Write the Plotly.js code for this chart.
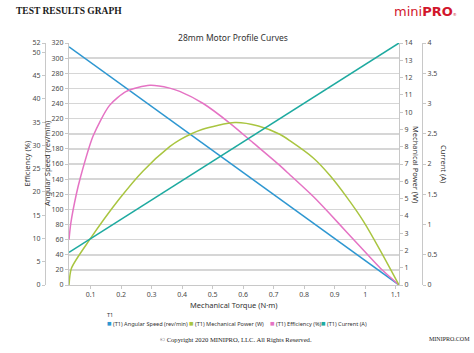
<!DOCTYPE html>
<html>
<head>
<meta charset="utf-8">
<script src="https://cdn.plot.ly/plotly-3.0.1.min.js"></script>
<style>html,body{margin:0;padding:0;background:#fff;}#chart{width:474px;height:353px;}</style>
</head>
<body>
<div id="chart"></div>
<script>
// ---- data ----
const speedTorque = [0.029, 1.111];
const speedValues = [315, 0];                 // rev/min

const currentTorque = [0.029, 1.111];
const currentValues = [0.54, 4.0];            // A

const powerTorque = [0.029, 0.037, 0.094, 0.195, 0.272, 0.359, 0.392, 0.465, 0.573, 0.65, 0.72, 0.753, 0.83, 0.884, 0.939, 0.994, 1.048, 1.111];
const powerValues = [0, 0.97, 2.55, 5.0, 6.6, 8.0, 8.4, 9.0, 9.4, 9.2, 8.72, 8.35, 7.35, 6.35, 5.1, 3.7, 2.05, 0]; // W

const effTorque = [0.029, 0.035, 0.053, 0.066, 0.108, 0.162, 0.217, 0.294, 0.359, 0.392, 0.469, 0.556, 0.633, 0.72, 0.753, 0.83, 0.884, 0.939, 0.994, 1.05, 1.111];
const effValues = [9.75, 13.3, 19.5, 23.0, 32.0, 38.6, 41.6, 42.9, 42.3, 41.6, 39.0, 34.8, 30.55, 25.7, 23.7, 19.0, 15.3, 11.4, 7.5, 3.6, 0]; // %

const seriesNames = ['(T1) Angular Speed (rev/min)', '(T1) Mechanical Power (W)', '(T1) Efficiency (%)', '(T1) Current (A)'];
const seriesColors = ['#2e97d1', '#a9c540', '#e573c4', '#1eaaa0'];
const effTicks = [0, 5, 10, 15, 20, 25, 30, 35, 40, 45, 50, 52];

// ---- layout helpers (pixel -> paper) ----
const ML = 45, MR = 52, MT = 43, MB = 68, W = 474, H = 353;
const PW = W - ML - MR, PH = H - MT - MB;
const px = x => (x - ML) / PW;
const py = y => (H - MB - y) / PH;

const FONT = 'Noto Sans, Open Sans, sans-serif';
const tickFont = {family: FONT, size: 7, color: '#4a4a4a'};
const titleFont = {family: FONT, size: 7.5, color: '#333'};

const traces = [
  {x: speedTorque, y: speedValues, name: seriesNames[0], type: 'scatter', mode: 'lines',
   line: {color: seriesColors[0], width: 1.5}, yaxis: 'y', showlegend: false},
  {x: powerTorque, y: powerValues, name: seriesNames[1], type: 'scatter', mode: 'lines',
   line: {color: seriesColors[1], width: 1.5, shape: 'spline', smoothing: 0.7}, yaxis: 'y3', showlegend: false},
  {x: effTorque, y: effValues, name: seriesNames[2], type: 'scatter', mode: 'lines',
   line: {color: seriesColors[2], width: 1.5, shape: 'spline', smoothing: 0.7}, yaxis: 'y2', showlegend: false},
  {x: currentTorque, y: currentValues, name: seriesNames[3], type: 'scatter', mode: 'lines',
   line: {color: seriesColors[3], width: 1.5}, yaxis: 'y4', showlegend: false}
];

const axisBase = {showline: true, linecolor: '#c8c8c8', linewidth: 1, ticks: 'outside', ticklen: 3,
  tickcolor: '#c8c8c8', tickfont: tickFont, zeroline: false, fixedrange: true};

const annotations = [
  {text: '<b>TEST RESULTS GRAPH</b>', x: px(14), y: py(11), xanchor: 'left', yanchor: 'middle',
   font: {family: 'Liberation Serif, serif', size: 9.5, color: '#1a1a1a'}},
  {text: 'mini<b>PRO</b><span style="font-size:4px">®</span>', x: px(392), y: py(11), xanchor: 'left', yanchor: 'middle',
   font: {family: 'DejaVu Sans, sans-serif', size: 13, color: '#d2172c'}},
  {text: 'Efficiency (%)', x: px(26.5), y: py(164), textangle: -90, xanchor: 'center', yanchor: 'middle', font: titleFont},
  {text: 'Angular Speed (rev/min)', x: px(47), y: py(164), textangle: -90, xanchor: 'center', yanchor: 'middle', font: titleFont},
  {text: 'Mechanical Power (W)', x: px(416), y: py(164), textangle: 90, xanchor: 'center', yanchor: 'middle', font: titleFont},
  {text: 'Current (A)', x: px(444), y: py(164), textangle: 90, xanchor: 'center', yanchor: 'middle', font: titleFont},
  {text: 'Mechanical Torque (N·m)', x: px(234), y: py(305), xanchor: 'center', yanchor: 'middle', font: titleFont},
  {text: 'T1', x: px(105), y: py(314.5), xanchor: 'left', yanchor: 'middle',
   font: {family: FONT, size: 5.6, color: '#333'}},
  {text: '© Copyright 2020 MINIPRO, LLC. All Rights Reserved.', x: px(236), y: py(339), xanchor: 'center', yanchor: 'middle',
   font: {family: 'Liberation Serif, serif', size: 6.6, color: '#222'}},
  {text: 'MINIPRO.COM', x: px(472), y: py(339), xanchor: 'right', yanchor: 'middle',
   font: {family: 'Liberation Serif, serif', size: 6, color: '#222'}}
];
const legendX = [105, 187, 268, 319];
seriesNames.forEach((n, i) => {
  annotations.push({text: '<span style="color:' + seriesColors[i] + ';font-size:7.5px">■</span> ' + n,
    x: px(legendX[i]), y: py(323), xanchor: 'left', yanchor: 'middle',
    font: {family: FONT, size: 5.6, color: '#333'}});
});
annotations.forEach(a => { a.xref = 'paper'; a.yref = 'paper'; a.showarrow = false; });

const layout = {
  width: W, height: H,
  margin: {l: ML, r: MR, t: MT, b: MB, pad: 0},
  paper_bgcolor: '#fff', plot_bgcolor: '#fff',
  font: {family: FONT, color: '#333'},
  showlegend: false,
  title: {text: '28mm Motor Profile Curves', x: px(233), xref: 'paper', xanchor: 'center',
          y: 1 - 38.5 / H, yref: 'container', yanchor: 'middle', font: {family: FONT, size: 8.5, color: '#333'}},
  xaxis: Object.assign({}, axisBase, {domain: [px(69), px(399)], range: [0.029, 1.111], tick0: 0, dtick: 0.1,
    showgrid: false, anchor: 'y'}),
  yaxis: Object.assign({}, axisBase, {range: [0, 320], dtick: 20, showgrid: true, gridcolor: '#d6d6d6', gridwidth: 1.5,
    anchor: 'x', side: 'left'}),
  yaxis2: Object.assign({}, axisBase, {range: [0, 52], tickvals: effTicks, showgrid: false, overlaying: 'y',
    anchor: 'free', position: 0, side: 'left'}),
  yaxis3: Object.assign({}, axisBase, {range: [0, 14], dtick: 1, showgrid: false, overlaying: 'y',
    anchor: 'x', side: 'right'}),
  yaxis4: Object.assign({}, axisBase, {range: [0, 4], dtick: 0.5, showgrid: false, overlaying: 'y',
    anchor: 'free', position: 1, side: 'right'}),
  annotations: annotations
};

Plotly.newPlot('chart', traces, layout, {displayModeBar: false, staticPlot: true});
</script>
</body>
</html>
